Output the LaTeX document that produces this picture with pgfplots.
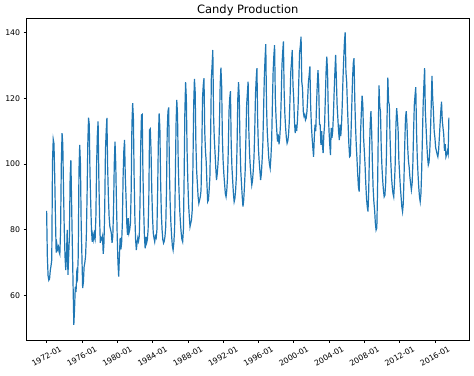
\documentclass[border=0pt]{standalone}
\usepackage{fontspec}
\setmainfont{DejaVu Sans}
\usepackage{pgfplots}
\pgfplotsset{compat=1.18}
\definecolor{mplblue}{HTML}{1F77B4}
\begin{document}
\begin{tikzpicture}
\begin{axis}[
  name=ax,
  scale only axis,
  width=442.5pt, height=321.5pt,
  xmin=-27.35, xmax=574.35,
  ymin=46.4, ymax=144.3,
  xtick={0,48,96,144,192,240,288,336,384,432,480,528},
  xticklabels={1972-01,1976-01,1980-01,1984-01,1988-01,1992-01,1996-01,2000-01,2004-01,2008-01,2012-01,2016-01},
  ytick={60,80,100,120,140},
  tick align=outside,
  major tick length=2.8pt,
  tick style={black, line width=0.6pt},
  axis line style={black, line width=0.6pt},
  xtick pos=bottom, ytick pos=left,
  /pgf/number format/assume math mode=true,
  ticklabel style={font=\fontsize{7.8}{9}\selectfont},
  xticklabel style={yshift=-13.5pt, rotate=30, anchor=center, inner sep=0pt},
  title={Candy Production},
  every axis title shift=0pt,
  title style={font=\fontsize{11.5}{13}\selectfont, at={(0.5,1)}, anchor=base, inner sep=0pt, yshift=4.5pt},
]
\addplot[mplblue, line width=1.2pt] coordinates {
(0,85.7)(1,71.8)(2,66.0)(3,64.6)(4,65.0)(5,67.6)(6,69.0)(7,70.8)(8,100.7)(9,107.5)(10,106.2)(11,96.5)
(12,84.0)(13,73.0)(14,75.5)(15,74.0)(16,74.8)(17,73.2)(18,72.5)(19,80.0)(20,100.0)(21,109.4)(22,106.0)(23,92.0)
(24,80.0)(25,72.0)(26,67.7)(27,72.0)(28,79.9)(29,66.2)(30,72.0)(31,78.0)(32,96.0)(33,101.2)(34,88.0)(35,75.0)
(36,63.0)(37,51.0)(38,56.0)(39,62.6)(40,61.0)(41,66.8)(42,65.5)(43,72.0)(44,98.0)(45,105.8)(46,100.0)(47,82.0)
(48,72.0)(49,62.2)(50,64.0)(51,68.7)(52,70.0)(53,72.0)(54,78.0)(55,90.0)(56,106.0)(57,114.1)(58,112.0)(59,97.0)
(60,88.0)(61,80.0)(62,76.3)(63,78.5)(64,77.0)(65,78.8)(66,77.5)(67,84.0)(68,100.0)(69,108.8)(70,113.0)(71,96.0)
(72,84.0)(73,76.0)(74,77.5)(75,77.0)(76,78.0)(77,72.6)(78,76.0)(79,86.0)(80,104.0)(81,110.0)(82,114.0)(83,99.0)
(84,90.0)(85,84.0)(86,81.0)(87,80.0)(88,78.9)(89,76.0)(90,78.0)(91,86.0)(92,100.0)(93,106.8)(94,100.0)(95,88.0)
(96,78.0)(97,70.0)(98,65.7)(99,72.0)(100,77.5)(101,74.0)(102,76.0)(103,82.0)(104,96.0)(105,104.0)(106,107.3)(107,96.0)
(108,90.0)(109,82.0)(110,78.4)(111,83.5)(112,79.0)(113,80.0)(114,82.0)(115,92.0)(116,112.0)(117,118.5)(118,114.0)(119,96.0)
(120,84.0)(121,77.0)(122,73.8)(123,76.0)(124,77.5)(125,76.5)(126,78.0)(127,88.0)(128,106.0)(129,114.9)(130,115.1)(131,97.0)
(132,86.0)(133,78.0)(134,74.3)(135,77.8)(136,76.0)(137,77.0)(138,80.0)(139,90.0)(140,110.4)(141,110.7)(142,104.0)(143,92.0)
(144,84.0)(145,79.0)(146,77.5)(147,76.3)(148,78.0)(149,77.5)(150,80.0)(151,92.0)(152,108.0)(153,115.4)(154,111.0)(155,95.0)
(156,85.0)(157,80.0)(158,77.0)(159,75.9)(160,76.5)(161,78.0)(162,81.0)(163,92.0)(164,110.0)(165,116.0)(166,117.2)(167,98.0)
(168,88.0)(169,82.0)(170,78.0)(171,75.0)(172,73.8)(173,76.0)(174,80.0)(175,95.0)(176,112.0)(177,119.5)(178,115.0)(179,100.0)
(180,92.0)(181,86.0)(182,82.0)(183,79.0)(184,77.0)(185,76.3)(186,80.0)(187,96.0)(188,116.0)(189,124.9)(190,120.0)(191,104.0)
(192,95.0)(193,88.0)(194,84.0)(195,80.9)(196,82.0)(197,83.0)(198,86.0)(199,100.0)(200,118.0)(201,125.9)(202,122.0)(203,106.0)
(204,98.0)(205,94.0)(206,90.0)(207,88.0)(208,89.0)(209,90.0)(210,92.0)(211,104.0)(212,120.0)(213,124.0)(214,126.1)(215,110.0)
(216,104.0)(217,100.7)(218,94.0)(219,88.5)(220,89.0)(221,92.0)(222,96.0)(223,108.0)(224,126.0)(225,130.0)(226,134.7)(227,115.0)
(228,107.8)(229,103.5)(230,99.0)(231,95.1)(232,97.0)(233,100.0)(234,104.0)(235,112.0)(236,124.0)(237,129.3)(238,124.0)(239,108.0)
(240,101.0)(241,97.0)(242,94.0)(243,91.0)(244,90.0)(245,92.0)(246,96.0)(247,104.0)(248,116.0)(249,120.0)(250,122.2)(251,106.0)
(252,99.0)(253,95.0)(254,91.0)(255,88.5)(256,89.5)(257,92.0)(258,96.0)(259,106.0)(260,120.0)(261,124.9)(262,120.0)(263,106.0)
(264,98.0)(265,94.0)(266,90.0)(267,87.0)(268,89.0)(269,93.0)(270,98.0)(271,108.0)(272,118.0)(273,121.5)(274,125.1)(275,110.0)
(276,103.0)(277,99.0)(278,96.0)(279,93.6)(280,95.0)(281,98.0)(282,102.0)(283,110.0)(284,121.0)(285,126.0)(286,129.2)(287,113.0)
(288,104.8)(289,101.0)(290,98.0)(291,95.1)(292,97.0)(293,101.0)(294,106.0)(295,116.0)(296,126.0)(297,132.0)(298,136.5)(299,118.0)
(300,110.0)(301,106.0)(302,102.0)(303,100.0)(304,98.7)(305,102.0)(306,107.0)(307,118.0)(308,128.0)(309,133.0)(310,136.2)(311,120.0)
(312,114.0)(313,110.0)(314,106.8)(315,109.0)(316,106.0)(317,108.0)(318,112.0)(319,120.0)(320,130.0)(321,134.0)(322,137.3)(323,122.0)
(324,115.0)(325,111.0)(326,108.0)(327,106.3)(328,107.0)(329,109.0)(330,113.0)(331,120.0)(332,128.0)(333,131.0)(334,134.7)(335,124.0)
(336,120.0)(337,113.0)(338,109.4)(339,112.0)(340,110.0)(341,113.0)(342,118.0)(343,126.0)(344,134.0)(345,136.0)(346,138.8)(347,125.0)
(348,123.0)(349,116.0)(350,114.5)(351,115.0)(352,113.4)(353,114.0)(354,116.0)(355,120.0)(356,125.0)(357,127.0)(358,129.7)(359,118.0)
(360,112.0)(361,108.0)(362,105.0)(363,102.2)(364,108.0)(365,112.0)(366,110.0)(367,118.0)(368,124.0)(369,128.6)(370,124.0)(371,112.0)
(372,111.9)(373,105.8)(374,110.0)(375,106.0)(376,103.3)(377,109.0)(378,112.0)(379,120.0)(380,128.0)(381,132.7)(382,128.0)(383,116.0)
(384,110.0)(385,106.0)(386,102.7)(387,111.0)(388,108.0)(389,110.0)(390,115.0)(391,122.0)(392,128.0)(393,133.2)(394,126.0)(395,118.0)
(396,114.0)(397,110.0)(398,107.3)(399,112.0)(400,108.5)(401,112.0)(402,118.0)(403,126.0)(404,132.0)(405,137.3)(406,140.1)(407,128.0)
(408,125.0)(409,118.0)(410,112.0)(411,106.0)(412,102.2)(413,102.5)(414,110.0)(415,118.0)(416,126.0)(417,130.7)(418,132.2)(419,120.0)
(420,112.0)(421,106.0)(422,101.7)(423,97.0)(424,93.0)(425,91.6)(426,100.0)(427,110.0)(428,116.0)(429,120.8)(430,118.0)(431,108.0)
(432,104.0)(433,99.7)(434,94.0)(435,89.5)(436,87.0)(437,85.5)(438,92.0)(439,104.0)(440,112.0)(441,116.1)(442,110.0)(443,100.0)
(444,92.6)(445,88.5)(446,86.0)(447,82.0)(448,79.9)(449,80.5)(450,92.0)(451,110.0)(452,123.9)(453,117.5)(454,116.0)(455,105.0)
(456,99.0)(457,95.0)(458,92.0)(459,90.0)(460,90.5)(461,94.0)(462,102.0)(463,115.0)(464,126.3)(465,119.0)(466,118.0)(467,108.0)
(468,101.0)(469,96.0)(470,93.0)(471,91.0)(472,90.0)(473,94.0)(474,100.0)(475,112.0)(476,117.0)(477,114.0)(478,110.0)(479,101.0)
(480,97.0)(481,93.0)(482,90.0)(483,87.0)(484,85.5)(485,88.0)(486,96.0)(487,106.0)(488,114.0)(489,116.1)(490,112.0)(491,105.0)
(492,101.0)(493,99.0)(494,96.0)(495,94.0)(496,92.1)(497,94.0)(498,100.0)(499,110.0)(500,118.0)(501,121.0)(502,123.4)(503,110.0)
(504,102.0)(505,97.0)(506,93.0)(507,90.0)(508,88.5)(509,91.0)(510,98.0)(511,108.0)(512,118.0)(513,124.0)(514,129.2)(515,116.0)
(516,111.0)(517,106.0)(518,102.0)(519,99.7)(520,100.5)(521,104.0)(522,110.0)(523,118.0)(524,126.8)(525,120.0)(526,116.0)(527,110.0)
(528,108.0)(529,105.0)(530,104.0)(531,103.0)(532,102.2)(533,104.0)(534,108.0)(535,112.0)(536,116.0)(537,119.0)(538,113.3)(539,111.0)
(540,109.0)(541,104.0)(542,106.0)(543,102.2)(544,103.0)(545,104.0)(546,103.0)(547,114.1)
};
\end{axis}
\pgfresetboundingbox
\path[use as bounding box] ([xshift=-26.5pt,yshift=-35pt]ax.south west) rectangle ([xshift=5pt,yshift=18.5pt]ax.north east);
\end{tikzpicture}
\end{document}
